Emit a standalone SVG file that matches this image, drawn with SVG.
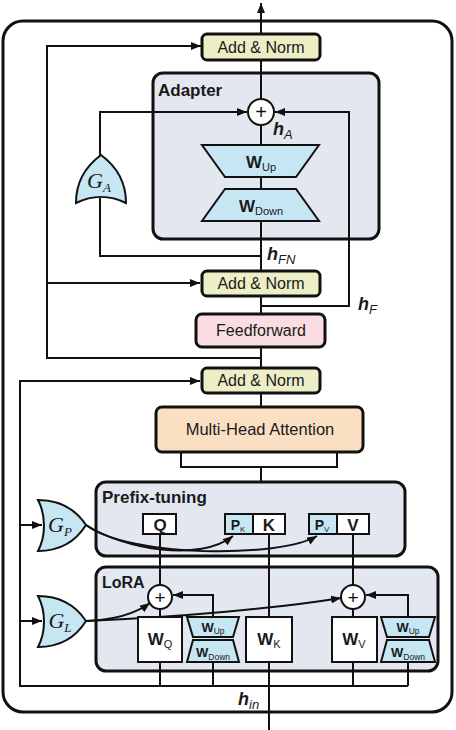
<svg xmlns="http://www.w3.org/2000/svg" width="456" height="730" viewBox="0 0 456 730">
<defs>
<marker id="ah" viewBox="0 0 10 8" refX="10" refY="4" markerWidth="10" markerHeight="8" markerUnits="userSpaceOnUse" orient="auto">
<path d="M0,0 L10,4 L0,8 Z" fill="#111"/>
</marker>
<style>
.ln{fill:none;stroke:#111;stroke-width:2}
.ar{fill:none;stroke:#111;stroke-width:2;marker-end:url(#ah)}
.grp{fill:#e3e7ef;stroke:#111;stroke-width:3}
.an{fill:#edeec6;stroke:#111;stroke-width:3}
.ff{fill:#f9dde1;stroke:#111;stroke-width:3}
.mha{fill:#fbdfc3;stroke:#111;stroke-width:3}
.tr{fill:#c6e6f3;stroke:#111;stroke-width:2}
.wb{fill:#ffffff;stroke:#111;stroke-width:2}
.pb{fill:#c6e6f3;stroke:#111;stroke-width:2}
.cir{fill:#ffffff;stroke:#111;stroke-width:2}
.t{font-family:"Liberation Sans",Arial,sans-serif;fill:#1a1a1a}
.b{font-family:"Liberation Sans",Arial,sans-serif;font-weight:bold;fill:#1a1a1a}
.h{font-family:"Liberation Sans",Arial,sans-serif;font-weight:bold;font-style:italic;fill:#1a1a1a}
.hs{font-weight:normal;font-style:italic}
.g{font-family:"Liberation Serif","Times New Roman",serif;font-style:italic;fill:#1a1a1a}
.pl{font-family:"Liberation Sans",Arial,sans-serif;fill:#111}
</style>
</defs>
<rect width="456" height="730" fill="#ffffff"/>
<rect id="outer" x="3" y="21" width="449" height="691" rx="20" fill="none" stroke="#111" stroke-width="3"/>

<g id="adapter">
<rect class="grp" x="153" y="73" width="226" height="166" rx="10"/>
<text class="b" x="158" y="96" font-size="17">Adapter</text>
</g>
<g id="prefix">
<rect class="grp" x="96" y="482" width="309" height="74" rx="10"/>
<text class="b" x="102" y="503" font-size="17">Prefix-tuning</text>
</g>
<g id="lora">
<rect class="grp" x="96" y="567" width="342" height="104" rx="10"/>
<text class="b" x="102" y="588" font-size="16">LoRA</text>
</g>

<g id="connectors">
<path class="ar" d="M261,34 V3"/>
<path class="ln" d="M261,60 V99"/>
<path class="ln" d="M261,125 V145"/>
<path class="ln" d="M261,177 V189"/>
<path class="ln" d="M261,221 V271"/>
<path class="ln" d="M261,295 V314"/>
<path class="ln" d="M261,347 V368"/>
<path class="ln" d="M261,393 V407"/>
<path class="ln" d="M181,452 V467 H337 V452 M261,467 V482"/>
<path class="ar" d="M261,358 H47 V46 H201"/>
<path class="ar" d="M47,283 H200"/>
<path class="ln" d="M261,256 H100 V198"/>
<path class="ar" d="M100,156 V112 H247"/>
<path class="ar" d="M261,306 H349 V112 H275"/>
<path class="ar" d="M408,686 H20 V381 H200"/>
<path class="ar" d="M20,525 H42"/>
<path class="ar" d="M20,621 H42"/>
<path class="ln" d="M160,534 V585 M160,609 V617 M160,662 V686"/>
<path class="ln" d="M353,534 V585 M353,609 V617 M353,662 V686"/>
<path class="ln" d="M269,534 V617 M269,662 V730"/>
<path class="ln" d="M213,662 V686 M408,662 V686"/>
<path class="ar" d="M213,617 V595 H173"/>
<path class="ar" d="M408,617 V595 H366"/>
<path class="ar" d="M86,525 C125,550 200,562 233,536"/>
<path class="ar" d="M86,525 C130,558 280,558 317,536"/>
<path class="ar" d="M86,621 C112,620 135,614 150,603"/>
<path class="ar" d="M86,621 C180,617 280,608 341,598"/>
</g>

<g id="addnorm_top">
<rect class="an" x="202" y="34" width="118" height="26" rx="5"/>
<text class="t" x="261" y="53" font-size="16" text-anchor="middle">Add &amp; Norm</text>
</g>
<g id="plus_adapter">
<circle class="cir" cx="261" cy="112" r="13"/>
<text class="pl" x="261" y="119" font-size="20" text-anchor="middle">+</text>
</g>
<text class="h" x="273" y="135" font-size="18">h<tspan class="hs" font-size="13" dy="4">A</tspan></text>
<g id="w_up">
<path class="tr" d="M202,145 H319 L296,177 H225 Z"/>
<text class="b" x="261" y="168" font-size="17" text-anchor="middle">W<tspan class="t" font-weight="normal" font-size="11" dy="3">Up</tspan></text>
</g>
<g id="w_down">
<path class="tr" d="M225,189 H296 L319,221 H202 Z"/>
<text class="b" x="261" y="212" font-size="17" text-anchor="middle">W<tspan font-weight="normal" font-size="11" dy="3">Down</tspan></text>
</g>
<g id="gate_a">
<path class="tr" d="M76,203 C76,182 86,166 101,155 C116,166 126,182 126,203 C110,195 92,195 76,203 Z"/>
<text class="g" x="99" y="188" font-size="22" text-anchor="middle">G<tspan font-size="13" dy="4">A</tspan></text>
</g>
<text class="h" x="267" y="260" font-size="18">h<tspan class="hs" font-size="13" dy="4">FN</tspan></text>
<g id="addnorm_mid">
<rect class="an" x="202" y="271" width="118" height="25" rx="5"/>
<text class="t" x="261" y="289" font-size="16" text-anchor="middle">Add &amp; Norm</text>
</g>
<text class="h" x="358" y="310" font-size="18">h<tspan class="hs" font-size="13" dy="4">F</tspan></text>
<g id="feedforward">
<rect class="ff" x="196" y="314" width="129" height="33" rx="6"/>
<text class="t" x="261" y="336" font-size="16" text-anchor="middle">Feedforward</text>
</g>
<g id="addnorm_bot">
<rect class="an" x="202" y="368" width="118" height="25" rx="5"/>
<text class="t" x="261" y="386" font-size="16" text-anchor="middle">Add &amp; Norm</text>
</g>
<g id="mha">
<rect class="mha" x="156" y="407" width="207" height="45" rx="6"/>
<text class="t" x="260" y="435" font-size="16.5" text-anchor="middle">Multi-Head Attention</text>
</g>

<g id="q">
<rect class="wb" x="143" y="514" width="33" height="20"/>
<text class="b" x="160" y="531" font-size="17" text-anchor="middle">Q</text>
</g>
<g id="pk">
<rect class="pb" x="225" y="514" width="28" height="20"/>
<text class="b" x="238" y="530" font-size="14" text-anchor="middle">P<tspan font-weight="normal" font-size="8" dy="2">K</tspan></text>
</g>
<g id="k">
<rect class="wb" x="253" y="514" width="32" height="20"/>
<text class="b" x="269" y="531" font-size="17" text-anchor="middle">K</text>
</g>
<g id="pv">
<rect class="pb" x="309" y="514" width="28" height="20"/>
<text class="b" x="322" y="530" font-size="14" text-anchor="middle">P<tspan font-weight="normal" font-size="8" dy="2">V</tspan></text>
</g>
<g id="v">
<rect class="wb" x="337" y="514" width="32" height="20"/>
<text class="b" x="353" y="531" font-size="17" text-anchor="middle">V</text>
</g>

<g id="gate_p">
<path class="tr" d="M38,500 C60,500 76,510 86,525 C76,541 60,551 38,551 C46,536 46,515 38,500 Z"/>
<text class="g" x="60" y="532" font-size="22" text-anchor="middle">G<tspan font-size="13" dy="4">P</tspan></text>
</g>
<g id="gate_l">
<path class="tr" d="M38,596 C60,596 76,606 86,621 C76,637 60,647 38,647 C46,632 46,611 38,596 Z"/>
<text class="g" x="60" y="628" font-size="22" text-anchor="middle">G<tspan font-size="13" dy="4">L</tspan></text>
</g>

<g id="plus_q">
<circle class="cir" cx="160" cy="597" r="12"/>
<text class="pl" x="160" y="604" font-size="19" text-anchor="middle">+</text>
</g>
<g id="plus_v">
<circle class="cir" cx="353" cy="597" r="12"/>
<text class="pl" x="353" y="604" font-size="19" text-anchor="middle">+</text>
</g>

<g id="wq">
<rect class="wb" x="138" y="617" width="44" height="45"/>
<text class="b" x="160" y="645" font-size="17" text-anchor="middle">W<tspan font-weight="normal" font-size="11" dy="3">Q</tspan></text>
</g>
<g id="wk">
<rect class="wb" x="246" y="617" width="46" height="45"/>
<text class="b" x="269" y="645" font-size="17" text-anchor="middle">W<tspan font-weight="normal" font-size="11" dy="3">K</tspan></text>
</g>
<g id="wv">
<rect class="wb" x="332" y="617" width="45" height="45"/>
<text class="b" x="354" y="645" font-size="17" text-anchor="middle">W<tspan font-weight="normal" font-size="11" dy="3">V</tspan></text>
</g>

<g id="lora_up_q">
<path class="tr" d="M187,617 H239 L233,637 H193 Z"/>
<text class="b" x="213" y="632" font-size="13" text-anchor="middle">W<tspan font-weight="normal" font-size="8.5" dy="2">Up</tspan></text>
</g>
<g id="lora_down_q">
<path class="tr" d="M193,640 H233 L239,662 H187 Z"/>
<text class="b" x="213" y="657" font-size="13" text-anchor="middle">W<tspan font-weight="normal" font-size="8.5" dy="3">Down</tspan></text>
</g>
<g id="lora_up_v">
<path class="tr" d="M381,617 H435 L429,637 H387 Z"/>
<text class="b" x="408" y="632" font-size="13" text-anchor="middle">W<tspan font-weight="normal" font-size="8.5" dy="2">Up</tspan></text>
</g>
<g id="lora_down_v">
<path class="tr" d="M387,640 H429 L435,662 H381 Z"/>
<text class="b" x="408" y="657" font-size="13" text-anchor="middle">W<tspan font-weight="normal" font-size="8.5" dy="3">Down</tspan></text>
</g>

<text class="h" x="238" y="705" font-size="18">h<tspan class="hs" font-size="13" dy="4">in</tspan></text>
</svg>
